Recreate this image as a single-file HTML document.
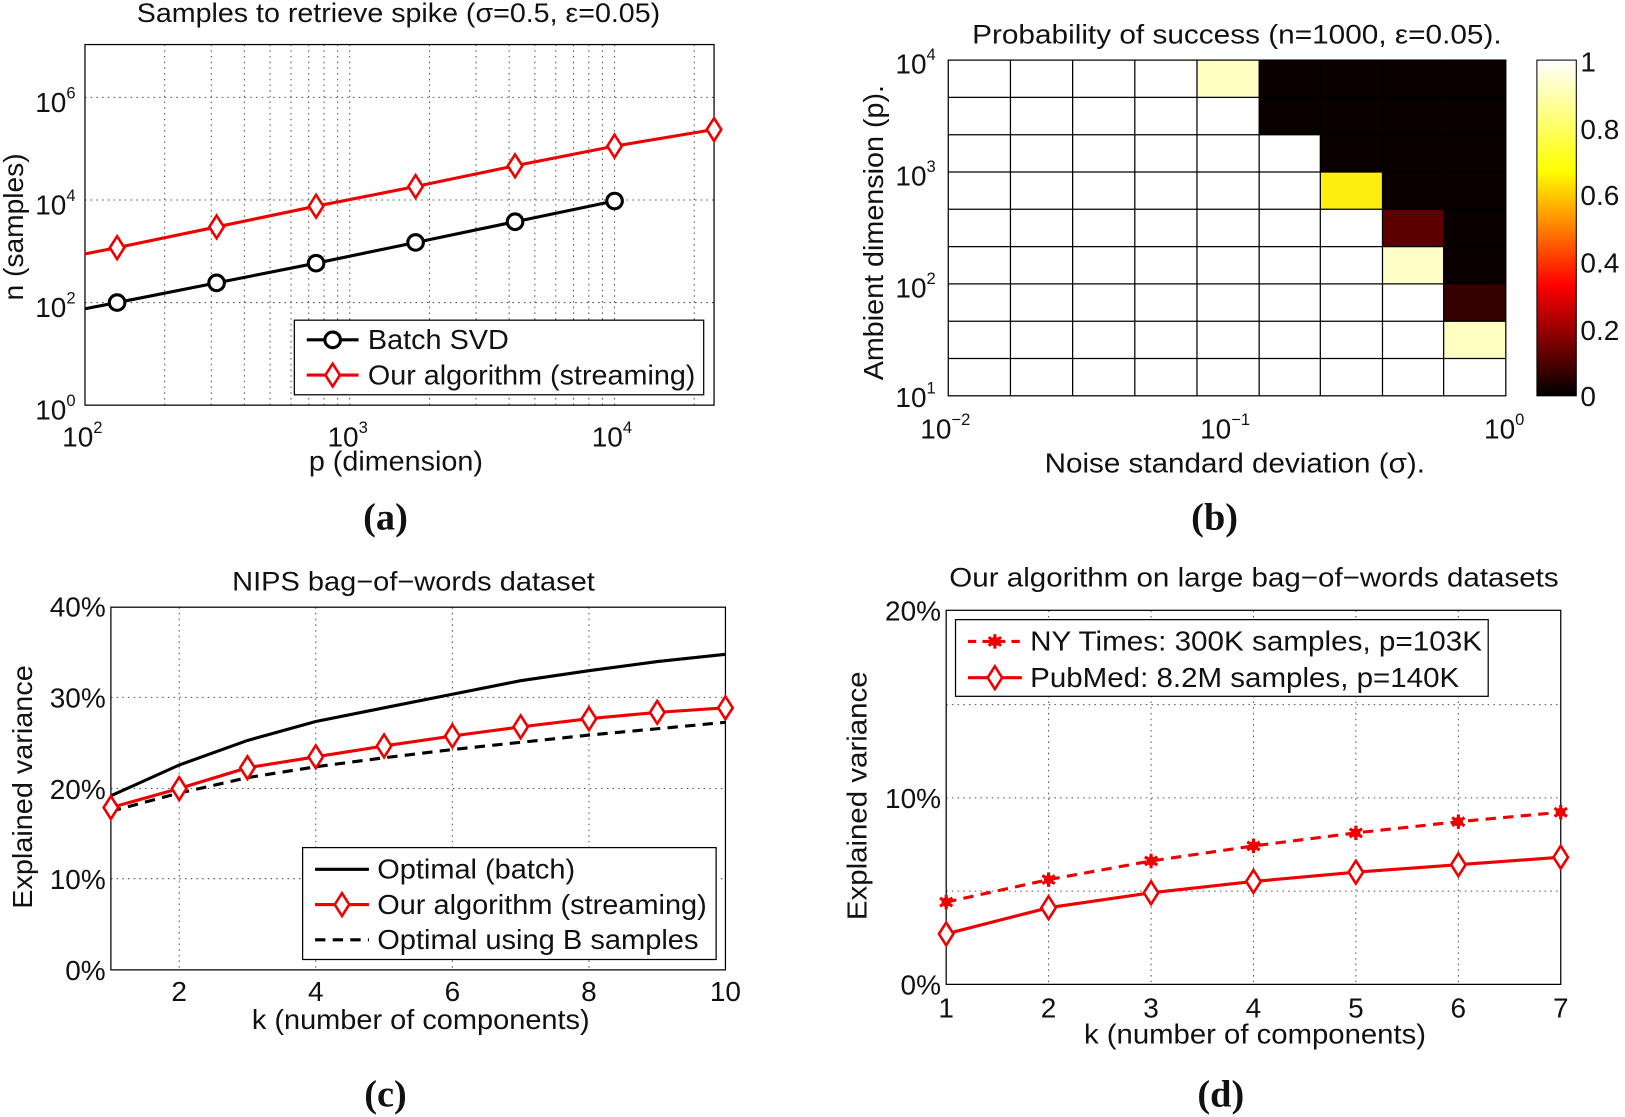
<!DOCTYPE html>
<html><head><meta charset="utf-8"><style>
html,body{margin:0;padding:0;background:#fff;}
svg{display:block;}
text{font-family:"Liberation Sans","DejaVu Sans",sans-serif;fill:#111;}
.s{font-family:"Liberation Serif",serif;font-weight:bold;font-size:37px;}
.g{stroke:#555;stroke-width:1;stroke-dasharray:1.5 4;fill:none;}
</style></head><body>
<svg width="1625" height="1117" viewBox="0 0 1568 1078" preserveAspectRatio="none" xmlns="http://www.w3.org/2000/svg">
<defs>
<marker id="dr" markerUnits="userSpaceOnUse" markerWidth="20" markerHeight="26" refX="10" refY="13" overflow="visible"><path d="M10 2 L17 13 L10 24 L3 13 Z" fill="#fff" stroke="#e00" stroke-width="2.5"/></marker>
<marker id="cb" markerUnits="userSpaceOnUse" markerWidth="20" markerHeight="20" refX="10" refY="10" overflow="visible"><circle cx="10" cy="10" r="7.5" fill="#fff" stroke="#000" stroke-width="3"/></marker>
<marker id="st" markerUnits="userSpaceOnUse" markerWidth="20" markerHeight="20" refX="10" refY="10" overflow="visible"><g stroke="#e00" stroke-width="3"><line x1="10" y1="3" x2="10" y2="17"/><line x1="4" y1="6" x2="16" y2="14"/><line x1="4" y1="14" x2="16" y2="6"/></g><circle cx="10" cy="10" r="4.5" fill="#e00"/></marker>
<linearGradient id="hot" x1="0" y1="1" x2="0" y2="0">
<stop offset="0" stop-color="#000"/><stop offset="0.33" stop-color="#f00"/><stop offset="0.67" stop-color="#ff0"/><stop offset="1" stop-color="#fff"/>
</linearGradient>
</defs>

<!-- Panel a -->
<text x="132" y="21" font-size="26" textLength="505" lengthAdjust="spacingAndGlyphs">Samples to retrieve spike (σ=0.5, ε=0.05)</text>
<g class="g">
<path d="M158.9 43V391M203.9 43V391M235.8 43V391M260.6 43V391M280.8 43V391M297.9 43V391M312.7 43V391M325.8 43V391M337.5 43V391M414.4 43V391M459.4 43V391M491.3 43V391M516.1 43V391M536.3 43V391M553.4 43V391M568.2 43V391M581.3 43V391M593 43V391M669.9 43V391M82 94H689M82 193H689M82 292H689"/>
</g>
<rect x="82" y="43" width="607" height="348" fill="none" stroke="#000" stroke-width="1.2"/>
<polyline points="82,298 113,292 209,273 305,254 401,234 497,214 593,194" fill="none" stroke="#000" stroke-width="3" marker-mid="url(#cb)" marker-end="url(#cb)"/>
<polyline points="82,245 113,239 209,219 305,199 401,180 497,160 593,141 689,125" fill="none" stroke="#e00" stroke-width="3" marker-mid="url(#dr)" marker-end="url(#dr)"/>
<g font-size="27">
<text x="34" y="108">10<tspan dy="-13" font-size="16">6</tspan></text>
<text x="34" y="207">10<tspan dy="-13" font-size="16">4</tspan></text>
<text x="34" y="306">10<tspan dy="-13" font-size="16">2</tspan></text>
<text x="34" y="405">10<tspan dy="-13" font-size="16">0</tspan></text>
<text x="60" y="431">10<tspan dy="-13" font-size="16">2</tspan></text>
<text x="316" y="431">10<tspan dy="-13" font-size="16">3</tspan></text>
<text x="571" y="431">10<tspan dy="-13" font-size="16">4</tspan></text>
<text x="298" y="454" textLength="168" lengthAdjust="spacingAndGlyphs">p (dimension)</text>
<text transform="translate(22,290) rotate(-90)" textLength="142" lengthAdjust="spacingAndGlyphs">n (samples)</text>
</g>
<rect x="284" y="309" width="395" height="72" fill="#fff" stroke="#000" stroke-width="1.2"/>
<polyline points="296,328 321,328 346,328" fill="none" stroke="#000" stroke-width="3" marker-mid="url(#cb)"/>
<polyline points="296,362 321,362 346,362" fill="none" stroke="#e00" stroke-width="3" marker-mid="url(#dr)"/>
<text x="355" y="337" font-size="27" textLength="136" lengthAdjust="spacingAndGlyphs">Batch SVD</text>
<text x="355" y="371" font-size="27" textLength="316" lengthAdjust="spacingAndGlyphs">Our algorithm (streaming)</text>
<text x="372" y="511" class="s" text-anchor="middle">(a)</text>

<!-- Panel b -->
<text x="938" y="42" font-size="26" textLength="511" lengthAdjust="spacingAndGlyphs">Probability of success (n=1000, ε=0.05).</text>
<rect x="915" y="58" width="538" height="324" fill="#fff"/>
<g>
<rect x="1155" y="58" width="60" height="36" fill="#ffffc2"/>
<path d="M1215 58H1453V274H1393V238H1334V202H1274V130H1215Z" fill="#0a0000"/>
<rect x="1274" y="166" width="60" height="36" fill="#ffee10"/>
<rect x="1334" y="202" width="59" height="36" fill="#5c0000"/>
<rect x="1334" y="238" width="59" height="36" fill="#ffffc8"/>
<rect x="1393" y="274" width="60" height="36" fill="#360000"/>
<rect x="1393" y="310" width="60" height="36" fill="#ffffc2"/>
</g>
<g stroke="#000" stroke-width="1.2">
<path d="M975 58V382M1035 58V382M1095 58V382M1155 58V382M1215 58V382M1274 58V382M1334 58V382M1393 58V382M915 94H1453M915 130H1453M915 166H1453M915 202H1453M915 238H1453M915 274H1453M915 310H1453M915 346H1453"/>
</g>
<rect x="915" y="58" width="538" height="324" fill="none" stroke="#000" stroke-width="1.2"/>
<rect x="1483" y="58" width="38" height="324" fill="url(#hot)" stroke="#000" stroke-width="1"/>
<g font-size="27">
<text x="1525" y="69">1</text><text x="1525" y="134">0.8</text><text x="1525" y="198">0.6</text><text x="1525" y="263">0.4</text><text x="1525" y="328">0.2</text><text x="1525" y="392">0</text>
<text x="864" y="71">10<tspan dy="-13" font-size="16">4</tspan></text>
<text x="864" y="179">10<tspan dy="-13" font-size="16">3</tspan></text>
<text x="864" y="287">10<tspan dy="-13" font-size="16">2</tspan></text>
<text x="864" y="393">10<tspan dy="-13" font-size="16">1</tspan></text>
<text x="888" y="423">10<tspan dy="-13" font-size="16">−2</tspan></text>
<text x="1158" y="423">10<tspan dy="-13" font-size="16">−1</tspan></text>
<text x="1432" y="423">10<tspan dy="-13" font-size="16">0</tspan></text>
<text x="1008" y="456" textLength="367" lengthAdjust="spacingAndGlyphs">Noise standard deviation (σ).</text>
<text transform="translate(852,367) rotate(-90)" textLength="285" lengthAdjust="spacingAndGlyphs">Ambient dimension (p).</text>
</g>
<text x="1172" y="511" class="s" text-anchor="middle">(b)</text>

<!-- Panel c -->
<text x="224" y="570" font-size="26" textLength="350" lengthAdjust="spacingAndGlyphs">NIPS bag−of−words dataset</text>
<g class="g"><path d="M172.9 586V936M304.7 586V936M436.5 586V936M568.3 586V936M107 673H700M107 761H700M107 848H700"/></g>
<rect x="107" y="586" width="593" height="350" fill="none" stroke="#000" stroke-width="1.2"/>
<polyline points="107,768 172.9,738.3 238.8,714.6 304.7,696.3 370.6,683.1 436.5,670 502.4,656.9 568.3,647.3 634.2,638.5 700,631.5" fill="none" stroke="#000" stroke-width="3"/>
<polyline points="107,782.9 172.9,765.4 238.8,750.5 304.7,740 370.6,731.3 436.5,723.4 502.4,716.4 568.3,709.4 634.2,703.3 700,697.1" fill="none" stroke="#000" stroke-width="3" stroke-dasharray="10 7"/>
<polyline points="107,779.4 172.9,761 238.8,740.9 304.7,730.4 370.6,719.9 436.5,710.3 502.4,701.5 568.3,693.6 634.2,687.5 700,683.1" fill="none" stroke="#e00" stroke-width="3" marker-start="url(#dr)" marker-mid="url(#dr)" marker-end="url(#dr)"/>
<g font-size="27">
<text x="102" y="595" text-anchor="end">40%</text><text x="102" y="683" text-anchor="end">30%</text><text x="102" y="771" text-anchor="end">20%</text><text x="102" y="858" text-anchor="end">10%</text><text x="102" y="946" text-anchor="end">0%</text>
<text x="172.9" y="966" text-anchor="middle">2</text><text x="304.7" y="966" text-anchor="middle">4</text><text x="436.5" y="966" text-anchor="middle">6</text><text x="568.3" y="966" text-anchor="middle">8</text><text x="700" y="966" text-anchor="middle">10</text>
<text x="243" y="993" textLength="326" lengthAdjust="spacingAndGlyphs">k (number of components)</text>
<text transform="translate(31,877) rotate(-90)" textLength="235" lengthAdjust="spacingAndGlyphs">Explained variance</text>
</g>
<rect x="292" y="818" width="399" height="108" fill="#fff" stroke="#000" stroke-width="1.2"/>
<line x1="304" y1="839" x2="356" y2="839" stroke="#000" stroke-width="3"/>
<polyline points="304,873 330,873 356,873" fill="none" stroke="#e00" stroke-width="3" marker-mid="url(#dr)"/>
<line x1="304" y1="907" x2="356" y2="907" stroke="#000" stroke-width="3" stroke-dasharray="10 7"/>
<g font-size="27"><text x="364" y="848" textLength="191" lengthAdjust="spacingAndGlyphs">Optimal (batch)</text><text x="364" y="882" textLength="318" lengthAdjust="spacingAndGlyphs">Our algorithm (streaming)</text><text x="364" y="916" textLength="310" lengthAdjust="spacingAndGlyphs">Optimal using B samples</text></g>
<text x="372" y="1068" class="s" text-anchor="middle">(c)</text>

<!-- Panel d -->
<text x="916" y="566" font-size="26" textLength="588" lengthAdjust="spacingAndGlyphs">Our algorithm on large bag−of−words datasets</text>
<g class="g"><path d="M1011.8 589V950M1110.7 589V950M1209.5 589V950M1308.3 589V950M1407.2 589V950M913 680H1506M913 770H1506M913 860H1506"/></g>
<rect x="913" y="589" width="593" height="361" fill="none" stroke="#000" stroke-width="1.2"/>
<polyline points="913,870.6 1011.8,848.9 1110.7,830.9 1209.5,816.4 1308.3,803.8 1407.2,793 1506,783.9" fill="none" stroke="#e00" stroke-width="3" stroke-dasharray="10 7" marker-start="url(#st)" marker-mid="url(#st)" marker-end="url(#st)"/>
<polyline points="913,901.3 1011.8,876 1110.7,861.6 1209.5,850.7 1308.3,841.7 1407.2,834.5 1506,827.3" fill="none" stroke="#e00" stroke-width="3" marker-start="url(#dr)" marker-mid="url(#dr)" marker-end="url(#dr)"/>
<g font-size="27">
<text x="908" y="599" text-anchor="end">20%</text><text x="908" y="780" text-anchor="end">10%</text><text x="908" y="960" text-anchor="end">0%</text>
<text x="913" y="982" text-anchor="middle">1</text><text x="1011.8" y="982" text-anchor="middle">2</text><text x="1110.7" y="982" text-anchor="middle">3</text><text x="1209.5" y="982" text-anchor="middle">4</text><text x="1308.3" y="982" text-anchor="middle">5</text><text x="1407.2" y="982" text-anchor="middle">6</text><text x="1506" y="982" text-anchor="middle">7</text>
<text x="1046" y="1007" textLength="330" lengthAdjust="spacingAndGlyphs">k (number of components)</text>
<text transform="translate(836,888) rotate(-90)" textLength="240" lengthAdjust="spacingAndGlyphs">Explained variance</text>
</g>
<rect x="922" y="598" width="514" height="74" fill="#fff" stroke="#000" stroke-width="1.2"/>
<polyline points="934,619 960,619 986,619" fill="none" stroke="#e00" stroke-width="3" stroke-dasharray="8 6" marker-mid="url(#st)"/>
<polyline points="934,654 960,654 986,654" fill="none" stroke="#e00" stroke-width="3" marker-mid="url(#dr)"/>
<g font-size="27"><text x="994" y="628" textLength="436" lengthAdjust="spacingAndGlyphs">NY Times: 300K samples, p=103K</text><text x="994" y="663" textLength="414" lengthAdjust="spacingAndGlyphs">PubMed: 8.2M samples, p=140K</text></g>
<text x="1178" y="1068" class="s" text-anchor="middle">(d)</text>
</svg>
</body></html>
